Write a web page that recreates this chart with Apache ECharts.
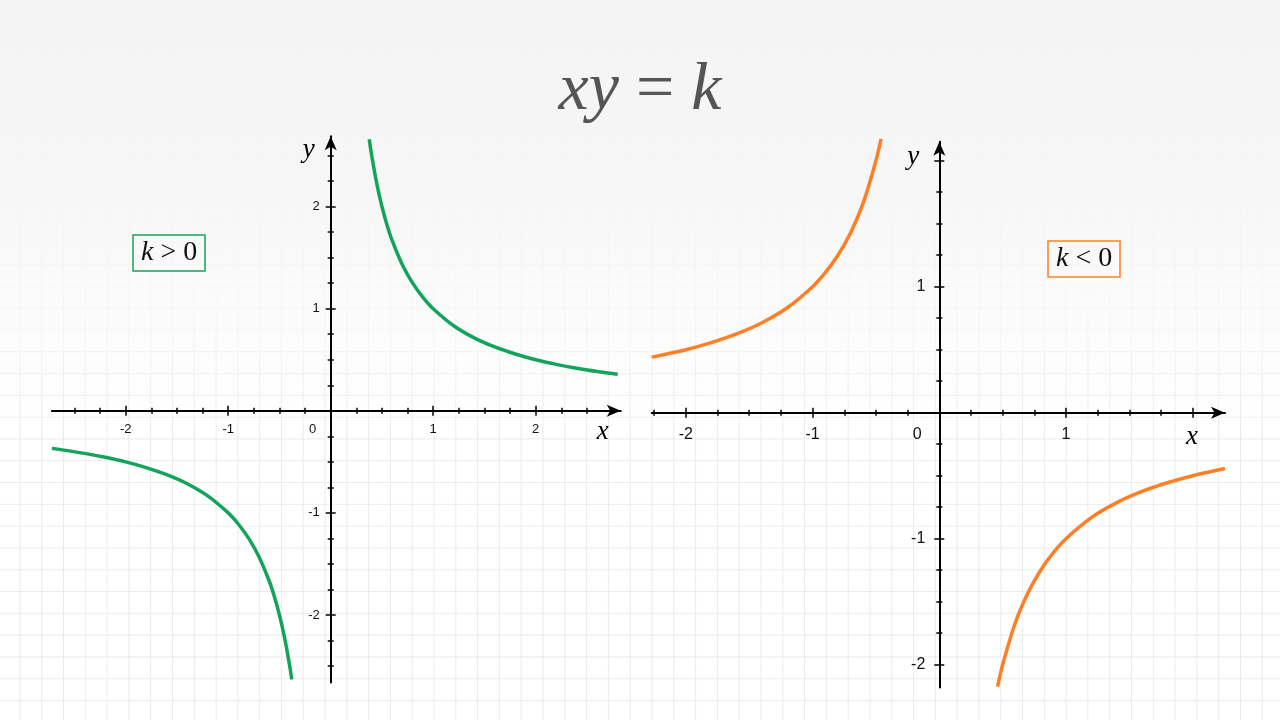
<!DOCTYPE html>
<html>
<head>
<meta charset="utf-8">
<script src="https://cdn.jsdelivr.net/npm/echarts@6.0.0/dist/echarts.min.js"></script>
<style>
html,body{margin:0;padding:0;width:1280px;height:720px;overflow:hidden;}
body{
  background-color:#fff;
  background-image:
    linear-gradient(to bottom, rgba(243,243,243,0.95) 0px, rgba(246,246,246,0.88) 200px, rgba(250,250,250,0.7) 320px, rgba(255,255,255,0) 430px),
    linear-gradient(to right, #ebebeb 1px, transparent 1px),
    linear-gradient(to bottom, #ebebeb 1px, transparent 1px);
  background-size: 100% 100%, 21.8px 21.8px, 21.8px 21.8px;
  background-position: 0 0, 19.4px 0, 0 2.5px;
}
#chart{width:1280px;height:720px;}
</style>
</head>
<body>
<div id="chart"></div>
<script>
// ---- data ----
const leftUpper = [[0.376,2.66],[0.4,2.5],[0.45,2.222],[0.5,2.0],[0.55,1.818],[0.6,1.667],[0.7,1.429],[0.8,1.25],[0.9,1.111],[1.0,1.0],[1.2,0.833],[1.4,0.714],[1.6,0.625],[1.8,0.556],[2.0,0.5],[2.2,0.455],[2.4,0.417],[2.6,0.385],[2.8,0.357]];
const leftLower = [[-2.72,-0.368],[-2.6,-0.385],[-2.4,-0.417],[-2.2,-0.455],[-2.0,-0.5],[-1.8,-0.556],[-1.6,-0.625],[-1.4,-0.714],[-1.2,-0.833],[-1.0,-1.0],[-0.9,-1.111],[-0.8,-1.25],[-0.7,-1.429],[-0.6,-1.667],[-0.55,-1.818],[-0.5,-2.0],[-0.45,-2.222],[-0.4,-2.5],[-0.38,-2.632]];
const rightUpper = [[-2.27,0.441],[-2.0,0.5],[-1.8,0.556],[-1.6,0.625],[-1.4,0.714],[-1.2,0.833],[-1.0,1.0],[-0.9,1.111],[-0.8,1.25],[-0.7,1.429],[-0.6,1.667],[-0.5,2.0],[-0.46,2.174]];
const rightLower = [[0.46,-2.174],[0.5,-2.0],[0.6,-1.667],[0.7,-1.429],[0.8,-1.25],[0.9,-1.111],[1.0,-1.0],[1.2,-0.833],[1.4,-0.714],[1.6,-0.625],[1.8,-0.556],[2.0,-0.5],[2.255,-0.443]];
const leftXTickLabels = [-2,-1,0,1,2];
const leftYTickLabels = [-2,-1,1,2];
const rightXTickLabels = [-2,-1,0,1];
const rightYTickLabels = [-2,-1,1];
const titleText = '{i|xy} = {i|k}';
const leftTag = '{i|k} > 0';
const rightTag = '{i|k} < 0';
const xName = 'x', yName = 'y';

// ---- styles / layout ----
const GREEN = '#14a35a', ORANGE = '#ff7f26';
const SERIF = 'Liberation Serif';
const SANS = 'Liberation Sans';

const option = {animation:false, grid:[], xAxis:[], yAxis:[], series:[], title:[]};

function addGrid(O,u,xr,yr){
  option.grid.push({left:O[0]+xr[0]*u[0], top:O[1]-yr[1]*u[1], width:(xr[1]-xr[0])*u[0], height:(yr[1]-yr[0])*u[1], containLabel:false, show:false});
  return option.grid.length-1;
}
function baseAxis(gi,r,extra){
  return Object.assign({type:'value', gridIndex:gi, min:r[0], max:r[1], scale:false,
    splitLine:{show:false}, axisLabel:{show:false}, axisTick:{show:false},
    axisLine:{show:false,onZero:false}}, extra);
}

function buildChart(c){
  // main axes: lines with arrows, crossing at the origin
  const g0 = addGrid(c.O,c.u,c.xr,c.yr);
  const xi0 = option.xAxis.length, yi0 = option.yAxis.length;
  const nameStyle = {fontFamily:SERIF, fontStyle:'italic', fontSize:27, color:'#000'};
  option.xAxis.push(baseAxis(g0,c.xr,{position:'bottom',
    axisLine:{show:true,onZero:true,onZeroAxisIndex:yi0,symbol:['none','arrow'],symbolSize:[9,14],lineStyle:{color:'#000',width:2}},
    name:xName, nameLocation:'end', nameGap:c.xNameGap,
    nameTextStyle:Object.assign({align:'center',verticalAlign:'top',padding:[c.xNamePad,0,0,0]},nameStyle)}));
  option.yAxis.push(baseAxis(g0,c.yr,{position:'left',
    axisLine:{show:true,onZero:true,onZeroAxisIndex:xi0,symbol:['none','arrow'],symbolSize:[9,14],lineStyle:{color:'#000',width:2}},
    name:yName, nameLocation:'end', nameGap:c.yNameGap,
    nameTextStyle:Object.assign({align:'right',verticalAlign:'middle',padding:[0,c.yNamePad,0,0]},nameStyle)}));

  // tick axes: grids whose bottom / left edge lies on the zero lines
  const tickSets = [
    {xr:c.minorX, yr:c.minorY, iv:0.25, len:3, labels:false},
    {xr:c.majorX, yr:c.majorY, iv:1, len:5, labels:true}
  ];
  tickSets.forEach(t=>{
    let g = addGrid(c.O,c.u,t.xr,[0,1]);
    option.yAxis.push(baseAxis(g,[0,1],{show:false}));
    [false,true].forEach(inside=>{
      const showLab = t.labels && !inside;
      option.xAxis.push(baseAxis(g,t.xr,{position:'bottom', interval:t.iv,
        axisTick:{show:true,inside:inside,length:t.len,lineStyle:{color:'#000',width:1.5}},
        axisLabel: showLab ? {show:true, margin:c.xLabMargin, fontFamily:SANS, fontSize:c.labSize, color:'#111',
          formatter:v=> c.xLabels.includes(v) ? (v===0 ? '{z|0}' : String(v)) : '',
          rich:{z:{fontFamily:SANS,fontSize:c.labSize,color:'#111',padding:[0,c.zeroShift*2,0,0]}}} : {show:false}}));
    });
    g = addGrid(c.O,c.u,[0,1],t.yr);
    option.xAxis.push(baseAxis(g,[0,1],{show:false}));
    [false,true].forEach(inside=>{
      const showLab = t.labels && !inside;
      option.yAxis.push(baseAxis(g,t.yr,{position:'left', interval:t.iv,
        axisTick:{show:true,inside:inside,length:t.len,lineStyle:{color:'#000',width:1.5}},
        axisLabel: showLab ? {show:true, margin:c.yLabMargin, fontFamily:SANS, fontSize:c.labSize, color:'#111',
          formatter:v=> c.yLabels.includes(v) ? String(v) : ''} : {show:false}}));
    });
  });

  c.curves.forEach(d=>{
    option.series.push({type:'line', xAxisIndex:xi0, yAxisIndex:yi0, data:d, smooth:0.3,
      symbol:'none', showSymbol:false, clip:false, lineStyle:{color:c.color,width:3.5,cap:'butt',join:'round'}, z:5});
  });
}

buildChart({O:[330.7,410.8], u:[102.5,102.1], xr:[-2.72,2.83], yr:[-2.66,2.69],
  minorX:[-2.5,2.5], minorY:[-2.5,2.5], majorX:[-2,2], majorY:[-2,2],
  xLabels:leftXTickLabels, yLabels:leftYTickLabels, labSize:13, xLabMargin:12, yLabMargin:11, zeroShift:18,
  xNameGap:-18, xNamePad:8, yNameGap:-14, yNamePad:16,
  curves:[leftUpper,leftLower], color:GREEN});

buildChart({O:[939.3,412.7], u:[126.7,126], xr:[-2.27,2.255], yr:[-2.18,2.15],
  minorX:[-2.25,2], minorY:[-2,2], majorX:[-2,2], majorY:[-2,2],
  xLabels:rightXTickLabels, yLabels:rightYTickLabels, labSize:16, xLabMargin:14, yLabMargin:14, zeroShift:22,
  xNameGap:-33, xNamePad:11, yNameGap:-15, yNamePad:20,
  curves:[rightUpper,rightLower], color:ORANGE});

option.title = [
  {text:titleText, left:'center', top:52, padding:5,
   textStyle:{fontFamily:SERIF, fontSize:68, fontWeight:'normal', color:'#555',
     rich:{i:{fontFamily:SERIF, fontStyle:'italic', fontSize:68, color:'#555'}}}},
  {text:leftTag, left:133, top:235, padding:[4,8], borderColor:GREEN, borderWidth:1.5,
   textStyle:{fontFamily:SERIF, fontSize:28, fontWeight:'normal', color:'#111',
     rich:{i:{fontFamily:SERIF, fontStyle:'italic', fontSize:28, color:'#111'}}}},
  {text:rightTag, left:1048, top:241, padding:[4,8], borderColor:ORANGE, borderWidth:1.5,
   textStyle:{fontFamily:SERIF, fontSize:28, fontWeight:'normal', color:'#111',
     rich:{i:{fontFamily:SERIF, fontStyle:'italic', fontSize:28, color:'#111'}}}}
];

const chart = echarts.init(document.getElementById('chart'), null, {renderer:'canvas'});
chart.setOption(option);
</script>
</body>
</html>
